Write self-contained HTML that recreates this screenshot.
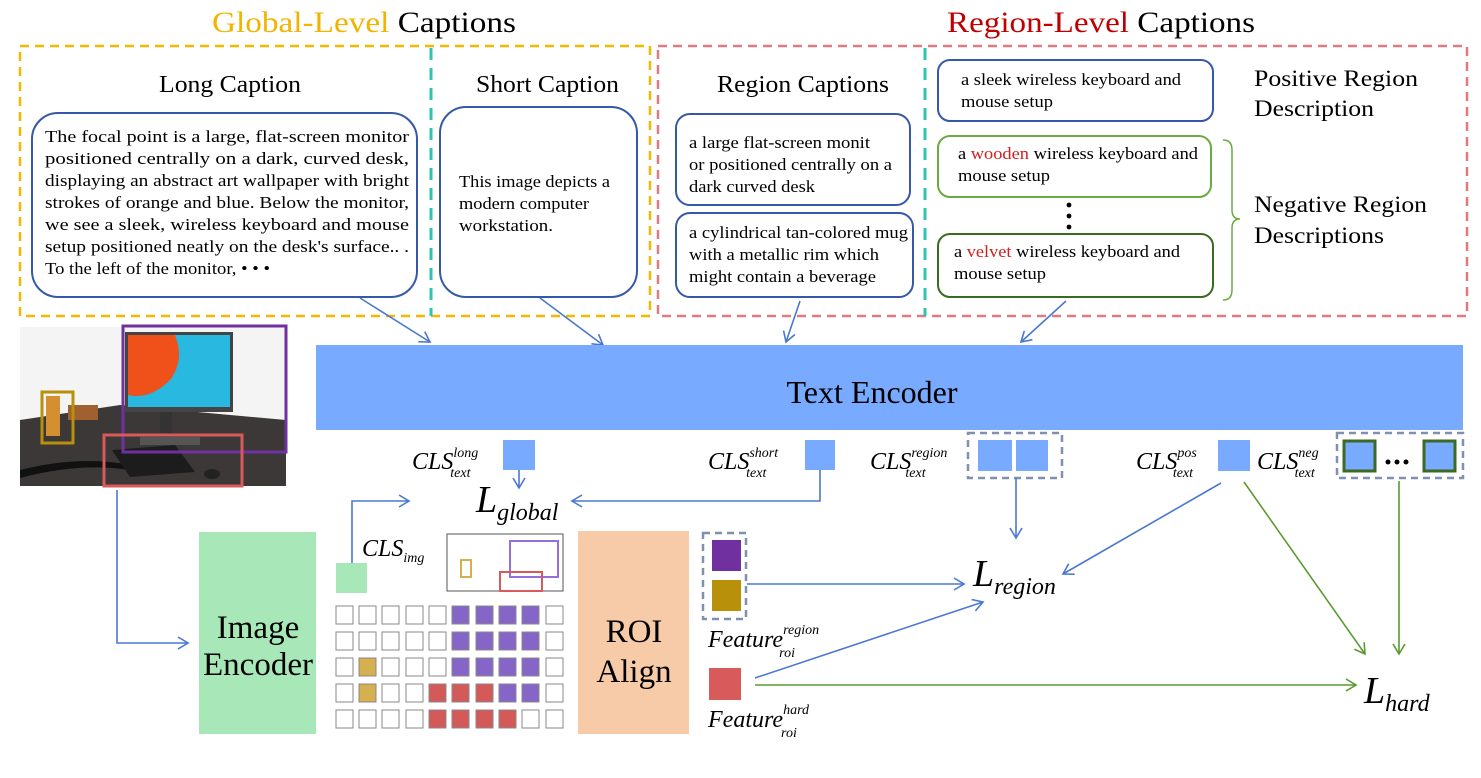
<!DOCTYPE html>
<html><head><meta charset="utf-8"><style>
html,body{margin:0;padding:0;background:#fff}
svg{display:block}
text{font-family:"Liberation Serif",serif}
</style></head><body>
<svg width="1481" height="778" viewBox="0 0 1481 778" xmlns="http://www.w3.org/2000/svg">
<defs>
<marker id="ab" markerWidth="14" markerHeight="14" refX="11" refY="7" orient="auto" markerUnits="userSpaceOnUse"><path d="M1,1 L11,7 L1,13" fill="none" stroke="#4a78d0" stroke-width="1.6"/></marker>
<marker id="ag" markerWidth="14" markerHeight="14" refX="11" refY="7" orient="auto" markerUnits="userSpaceOnUse"><path d="M1,1 L11,7 L1,13" fill="none" stroke="#5a9a30" stroke-width="1.6"/></marker>
</defs>

<text x="212" y="32" font-size="30" textLength="304" lengthAdjust="spacingAndGlyphs"><tspan fill="#f2b400">Global-Level</tspan> Captions</text>
<text x="947" y="32" font-size="30" textLength="308" lengthAdjust="spacingAndGlyphs"><tspan fill="#c00000">Region-Level</tspan> Captions</text>

<rect x="20" y="46" width="630" height="270" fill="none" stroke="#f5b800" stroke-width="2.5" stroke-dasharray="9,6"/>
<line x1="431" y1="48" x2="431" y2="316" stroke="#2ec4b0" stroke-width="3" stroke-dasharray="12,8"/>
<rect x="658" y="46" width="809" height="270" fill="none" stroke="#e07a80" stroke-width="2.5" stroke-dasharray="9,6"/>
<line x1="925" y1="48" x2="925" y2="316" stroke="#2ec4b0" stroke-width="3" stroke-dasharray="12,8"/>

<text x="159" y="92" font-size="24" textLength="142" lengthAdjust="spacingAndGlyphs">Long Caption</text>
<rect x="32" y="113" width="385" height="184" rx="26" fill="#fff" stroke="#3558a8" stroke-width="2"/>
<g font-size="17">
<text x="45" y="142" textLength="364" lengthAdjust="spacingAndGlyphs">The focal point is a large, flat-screen monitor</text>
<text x="45" y="164" textLength="364" lengthAdjust="spacingAndGlyphs">positioned centrally on a dark, curved desk,</text>
<text x="45" y="186" textLength="364" lengthAdjust="spacingAndGlyphs">displaying an abstract art wallpaper with bright</text>
<text x="45" y="208" textLength="364" lengthAdjust="spacingAndGlyphs">strokes of orange and blue. Below the monitor,</text>
<text x="45" y="230" textLength="364" lengthAdjust="spacingAndGlyphs">we see a sleek, wireless keyboard and mouse</text>
<text x="45" y="252" textLength="364" lengthAdjust="spacingAndGlyphs">setup positioned neatly on the desk's surface.. .</text>
<text x="45" y="274" textLength="225" lengthAdjust="spacingAndGlyphs">To the left of the monitor, • • •</text>
</g>

<text x="476" y="92" font-size="24" textLength="143" lengthAdjust="spacingAndGlyphs">Short Caption</text>
<rect x="440" y="107" width="197" height="190" rx="26" fill="#fff" stroke="#3558a8" stroke-width="2"/>
<g font-size="16.5">
<text x="459" y="187" textLength="151" lengthAdjust="spacingAndGlyphs">This image depicts a</text>
<text x="459" y="209" textLength="130" lengthAdjust="spacingAndGlyphs">modern computer</text>
<text x="459" y="231" textLength="94" lengthAdjust="spacingAndGlyphs">workstation.</text>
</g>

<text x="717" y="92" font-size="24" textLength="172" lengthAdjust="spacingAndGlyphs">Region Captions</text>
<rect x="676" y="114" width="234" height="91" rx="14" fill="#fff" stroke="#3558a8" stroke-width="2"/>
<rect x="676" y="213" width="237" height="84" rx="14" fill="#fff" stroke="#3558a8" stroke-width="2"/>
<g font-size="16.5">
<text x="689" y="148" textLength="181" lengthAdjust="spacingAndGlyphs">a large flat-screen monit</text>
<text x="689" y="170" textLength="203" lengthAdjust="spacingAndGlyphs">or positioned centrally on a</text>
<text x="689" y="192" textLength="126" lengthAdjust="spacingAndGlyphs">dark curved desk</text>
<text x="689" y="238" textLength="219" lengthAdjust="spacingAndGlyphs">a cylindrical tan-colored mug</text>
<text x="689" y="260" textLength="190" lengthAdjust="spacingAndGlyphs">with a metallic rim which</text>
<text x="689" y="282" textLength="187" lengthAdjust="spacingAndGlyphs">might contain a beverage</text>
</g>

<rect x="938" y="60" width="275" height="61" rx="12" fill="#fff" stroke="#3558a8" stroke-width="2"/>
<rect x="938" y="136" width="273" height="61" rx="12" fill="#fff" stroke="#6aaa40" stroke-width="2"/>
<rect x="938" y="234" width="275" height="63" rx="12" fill="#fff" stroke="#3b6a22" stroke-width="2"/>
<g font-size="16.5">
<text x="961" y="85" textLength="220" lengthAdjust="spacingAndGlyphs">a sleek wireless keyboard and</text>
<text x="961" y="107" textLength="92" lengthAdjust="spacingAndGlyphs">mouse setup</text>
<text x="958" y="159" textLength="240" lengthAdjust="spacingAndGlyphs">a <tspan fill="#d02020">wooden</tspan> wireless keyboard and</text>
<text x="958" y="181" textLength="92" lengthAdjust="spacingAndGlyphs">mouse setup</text>
<text x="954" y="257" textLength="226" lengthAdjust="spacingAndGlyphs">a <tspan fill="#d02020">velvet</tspan> wireless keyboard and</text>
<text x="954" y="279" textLength="92" lengthAdjust="spacingAndGlyphs">mouse setup</text>
</g>
<circle cx="1069" cy="205" r="2.4" fill="#000"/><circle cx="1069" cy="216" r="2.4" fill="#000"/><circle cx="1069" cy="227" r="2.4" fill="#000"/>
<path d="M1223,140 Q1232,140 1232,150 L1232,210 Q1232,219 1240,219 Q1232,219 1232,228 L1232,290 Q1232,300 1223,300" fill="none" stroke="#6aaa40" stroke-width="1.5"/>
<g font-size="23">
<text x="1254" y="86" textLength="164" lengthAdjust="spacingAndGlyphs">Positive Region</text>
<text x="1254" y="116" textLength="120" lengthAdjust="spacingAndGlyphs">Description</text>
<text x="1254" y="212" textLength="173" lengthAdjust="spacingAndGlyphs">Negative Region</text>
<text x="1254" y="243" textLength="130" lengthAdjust="spacingAndGlyphs">Descriptions</text>
</g>

<g stroke="#4a78d0" stroke-width="1.6" fill="none">
<line x1="360" y1="298" x2="430" y2="342" marker-end="url(#ab)"/>
<line x1="540" y1="298" x2="603" y2="345" marker-end="url(#ab)"/>
<line x1="800" y1="301" x2="786" y2="342" marker-end="url(#ab)"/>
<line x1="1066" y1="301" x2="1021" y2="342" marker-end="url(#ab)"/>
</g>

<rect x="316" y="345" width="1147" height="85" fill="#78aaff"/>
<text x="872" y="403" font-size="32" text-anchor="middle">Text Encoder</text>

<!-- photo -->
<rect x="20" y="327" width="266" height="159" fill="#f4f4f4"/>
<path d="M20,420 L120,405 L286,420 L286,486 L20,486 Z" fill="#3c3838"/>
<path d="M20,470 Q80,455 130,465 L130,470 Q80,462 20,478 Z" fill="#111"/>
<rect x="125" y="332" width="108" height="80" fill="#444"/>
<rect x="128" y="335" width="102" height="72" fill="#28b8e0"/>
<path d="M128,335 L175,335 Q185,360 170,380 Q150,400 128,395 Z" fill="#f0501a"/>
<rect x="160" y="412" width="12" height="25" fill="#333"/>
<rect x="140" y="437" width="60" height="8" fill="#555"/>
<path d="M112,450 L175,445 L195,472 L130,477 Z" fill="#1c1c1c"/>
<ellipse cx="212" cy="474" rx="8" ry="5" fill="#222"/>
<rect x="46" y="396" width="14" height="40" fill="#d49030"/>
<rect x="68" y="405" width="30" height="15" fill="#a06030"/>
<rect x="123" y="326" width="163" height="126" fill="none" stroke="#7030a0" stroke-width="3"/>
<rect x="42" y="392" width="31" height="51" fill="none" stroke="#b8900a" stroke-width="3"/>
<rect x="104" y="435" width="138" height="51" fill="none" stroke="#d85a5a" stroke-width="3"/>

<polyline points="117,490 117,643 188,643" fill="none" stroke="#4a78d0" stroke-width="1.6" marker-end="url(#ab)"/>

<rect x="199" y="532" width="117" height="202" fill="#a8e8b8"/>
<text x="258" y="638" font-size="33" text-anchor="middle">Image</text>
<text x="258" y="675" font-size="33" text-anchor="middle">Encoder</text>

<rect x="336" y="563" width="31" height="30" fill="#a8e8b8"/>
<text x="362" y="556" font-size="24" font-style="italic">CLS<tspan font-size="14" dy="6">img</tspan></text>
<polyline points="352,563 352,501 409,501" fill="none" stroke="#4a78d0" stroke-width="1.6" marker-end="url(#ab)"/>

<rect x="447" y="534" width="116" height="57" fill="#fff" stroke="#555" stroke-width="1"/>
<rect x="510" y="541" width="48" height="36" fill="none" stroke="#9370db" stroke-width="2"/>
<rect x="461" y="560" width="10" height="17" fill="none" stroke="#d4b050" stroke-width="2"/>
<rect x="500" y="572" width="42" height="19" fill="none" stroke="#d85a5a" stroke-width="2"/>

<!-- grid: cols x 336,359,382,406,429,452,476,499,522,546 -->
<g stroke="#888" stroke-width="1">
<rect x="336" y="606" width="17" height="18" fill="#fff"/><rect x="359" y="606" width="17" height="18" fill="#fff"/><rect x="382" y="606" width="17" height="18" fill="#fff"/><rect x="406" y="606" width="17" height="18" fill="#fff"/><rect x="429" y="606" width="17" height="18" fill="#fff"/><rect x="452" y="606" width="17" height="18" fill="#8566c8"/><rect x="476" y="606" width="17" height="18" fill="#8566c8"/><rect x="499" y="606" width="17" height="18" fill="#8566c8"/><rect x="522" y="606" width="17" height="18" fill="#8566c8"/><rect x="546" y="606" width="17" height="18" fill="#fff"/>
<rect x="336" y="632" width="17" height="18" fill="#fff"/><rect x="359" y="632" width="17" height="18" fill="#fff"/><rect x="382" y="632" width="17" height="18" fill="#fff"/><rect x="406" y="632" width="17" height="18" fill="#fff"/><rect x="429" y="632" width="17" height="18" fill="#fff"/><rect x="452" y="632" width="17" height="18" fill="#8566c8"/><rect x="476" y="632" width="17" height="18" fill="#8566c8"/><rect x="499" y="632" width="17" height="18" fill="#8566c8"/><rect x="522" y="632" width="17" height="18" fill="#8566c8"/><rect x="546" y="632" width="17" height="18" fill="#fff"/>
<rect x="336" y="658" width="17" height="18" fill="#fff"/><rect x="359" y="658" width="17" height="18" fill="#d4b050"/><rect x="382" y="658" width="17" height="18" fill="#fff"/><rect x="406" y="658" width="17" height="18" fill="#fff"/><rect x="429" y="658" width="17" height="18" fill="#fff"/><rect x="452" y="658" width="17" height="18" fill="#8566c8"/><rect x="476" y="658" width="17" height="18" fill="#8566c8"/><rect x="499" y="658" width="17" height="18" fill="#8566c8"/><rect x="522" y="658" width="17" height="18" fill="#8566c8"/><rect x="546" y="658" width="17" height="18" fill="#fff"/>
<rect x="336" y="684" width="17" height="18" fill="#fff"/><rect x="359" y="684" width="17" height="18" fill="#d4b050"/><rect x="382" y="684" width="17" height="18" fill="#fff"/><rect x="406" y="684" width="17" height="18" fill="#fff"/><rect x="429" y="684" width="17" height="18" fill="#d45a5a"/><rect x="452" y="684" width="17" height="18" fill="#d45a5a"/><rect x="476" y="684" width="17" height="18" fill="#d45a5a"/><rect x="499" y="684" width="17" height="18" fill="#8566c8"/><rect x="522" y="684" width="17" height="18" fill="#8566c8"/><rect x="546" y="684" width="17" height="18" fill="#fff"/>
<rect x="336" y="710" width="17" height="18" fill="#fff"/><rect x="359" y="710" width="17" height="18" fill="#fff"/><rect x="382" y="710" width="17" height="18" fill="#fff"/><rect x="406" y="710" width="17" height="18" fill="#fff"/><rect x="429" y="710" width="17" height="18" fill="#d45a5a"/><rect x="452" y="710" width="17" height="18" fill="#d45a5a"/><rect x="476" y="710" width="17" height="18" fill="#d45a5a"/><rect x="499" y="710" width="17" height="18" fill="#d45a5a"/><rect x="522" y="710" width="17" height="18" fill="#fff"/><rect x="546" y="710" width="17" height="18" fill="#fff"/>
</g>

<rect x="578" y="531" width="111" height="203" fill="#f8cba8"/>
<text x="634" y="642" font-size="33" text-anchor="middle">ROI</text>
<text x="634" y="682" font-size="33" text-anchor="middle">Align</text>

<rect x="703" y="533" width="43" height="86" fill="none" stroke="#8090b0" stroke-width="2.5" stroke-dasharray="7,5"/>
<rect x="712" y="540" width="29" height="31" fill="#7030a0"/>
<rect x="712" y="580" width="29" height="31" fill="#b8900a"/>
<text x="708" y="647" font-size="24" font-style="italic">Feature<tspan font-size="14" dy="-13">region</tspan><tspan font-size="14" dx="-40" dy="23">roi</tspan></text>
<rect x="709" y="668" width="32" height="32" fill="#d85a5a"/>
<text x="708" y="727" font-size="24" font-style="italic">Feature<tspan font-size="14" dy="-13">hard</tspan><tspan font-size="14" dx="-28" dy="23">roi</tspan></text>

<text x="412" y="469" font-size="24" font-style="italic">CLS<tspan font-size="14" dy="-12">long</tspan><tspan font-size="14" dx="-28" dy="20">text</tspan></text>
<rect x="503" y="440" width="32" height="30" fill="#78aaff"/>
<text x="708" y="469" font-size="24" font-style="italic">CLS<tspan font-size="14" dy="-12">short</tspan><tspan font-size="14" dx="-32" dy="20">text</tspan></text>
<rect x="805" y="440" width="30" height="30" fill="#78aaff"/>
<text x="870" y="469" font-size="24" font-style="italic">CLS<tspan font-size="14" dy="-12">region</tspan><tspan font-size="14" dx="-42" dy="20">text</tspan></text>
<rect x="968" y="433" width="94" height="45" fill="none" stroke="#8090b0" stroke-width="2.5" stroke-dasharray="7,5"/>
<rect x="978" y="440" width="34" height="31" fill="#78aaff"/>
<rect x="1016" y="440" width="32" height="31" fill="#78aaff"/>
<text x="1136" y="469" font-size="24" font-style="italic">CLS<tspan font-size="14" dy="-12">pos</tspan><tspan font-size="14" dx="-24" dy="20">text</tspan></text>
<rect x="1218" y="440" width="32" height="31" fill="#78aaff"/>
<text x="1257" y="469" font-size="24" font-style="italic">CLS<tspan font-size="14" dy="-12">neg</tspan><tspan font-size="14" dx="-24" dy="20">text</tspan></text>
<rect x="1337" y="433" width="126" height="45" fill="none" stroke="#8090b0" stroke-width="2.5" stroke-dasharray="7,5"/>
<rect x="1344" y="441" width="31" height="30" fill="#78aaff" stroke="#3b6a22" stroke-width="3"/>
<rect x="1424" y="441" width="31" height="30" fill="#78aaff" stroke="#3b6a22" stroke-width="3"/>
<circle cx="1388" cy="462" r="2.5" fill="#000"/><circle cx="1397" cy="462" r="2.5" fill="#000"/><circle cx="1406" cy="462" r="2.5" fill="#000"/>

<text x="476" y="512" font-size="38" font-style="italic">L<tspan font-size="24" dy="8">global</tspan></text>
<text x="973" y="586" font-size="38" font-style="italic">L<tspan font-size="24" dy="8">region</tspan></text>
<text x="1364" y="703" font-size="38" font-style="italic">L<tspan font-size="24" dy="8">hard</tspan></text>

<g fill="none" stroke-width="1.6">
<line x1="519" y1="470" x2="519" y2="488" stroke="#4a78d0" marker-end="url(#ab)"/>
<polyline points="820,470 820,501 572,501" stroke="#4a78d0" marker-end="url(#ab)"/>
<line x1="1016" y1="478" x2="1016" y2="538" stroke="#4a78d0" marker-end="url(#ab)"/>
<line x1="1221" y1="483" x2="1063" y2="574" stroke="#4a78d0" marker-end="url(#ab)"/>
<line x1="747" y1="584" x2="964" y2="584" stroke="#4a78d0" marker-end="url(#ab)"/>
<line x1="755" y1="678" x2="983" y2="602" stroke="#4a78d0" marker-end="url(#ab)"/>
<line x1="755" y1="685" x2="1356" y2="685" stroke="#5a9a30" marker-end="url(#ag)"/>
<line x1="1244" y1="482" x2="1365" y2="654" stroke="#5a9a30" marker-end="url(#ag)"/>
<line x1="1399" y1="481" x2="1399" y2="654" stroke="#5a9a30" marker-end="url(#ag)"/>
</g>
</svg>
</body></html>
